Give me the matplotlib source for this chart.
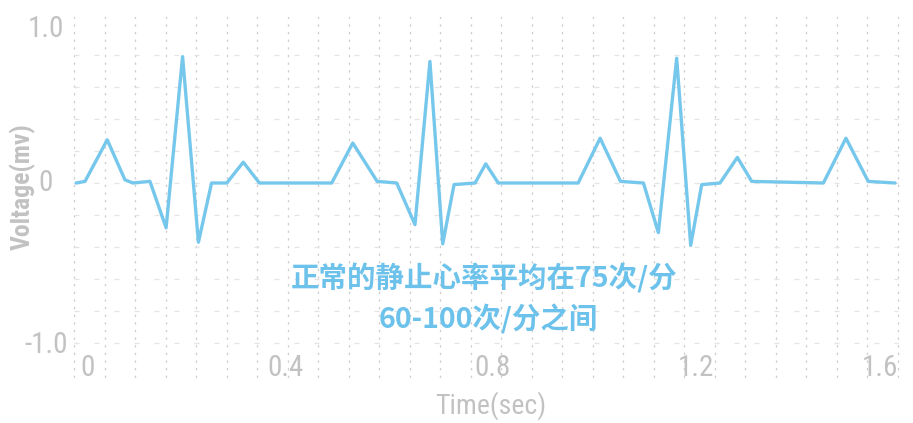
import matplotlib
matplotlib.use("Agg")
import matplotlib.pyplot as plt
from matplotlib import font_manager
import numpy as np

# ECG trace (time in s, voltage in mV)
t_sec = [0.007, 0.036, 0.109, 0.167, 0.193, 0.249, 0.302, 0.356, 0.408, 0.451,
         0.501, 0.555, 0.608,
         0.845, 0.914, 0.994, 1.058, 1.118, 1.167, 1.209, 1.246, 1.315, 1.350,
         1.391,
         1.653, 1.725, 1.792, 1.867, 1.916, 1.976, 2.022, 2.058, 2.118, 2.175,
         2.222, 2.457, 2.531, 2.604, 2.692]
volt_mv = [0.00, 0.01, 0.27, 0.02, 0.00, 0.01, -0.28, 0.79, -0.37, 0.00,
           0.00, 0.13, 0.00,
           0.00, 0.25, 0.01, 0.00, -0.26, 0.76, -0.38, -0.01, 0.00, 0.12,
           0.00,
           0.00, 0.28, 0.01, 0.00, -0.31, 0.78, -0.39, -0.01, 0.00, 0.16,
           0.01, 0.00, 0.28, 0.01, 0.00]

x_tick_labels = ["0", "0.4", "0.8", "1.2", "1.6"]
x_tick_pos = [0.046, 0.695, 1.373, 2.039, 2.643]
y_tick_labels = ["1.0", "0", "-1.0"]
y_tick_pos = [0.96, 0.0, -1.01]

note_lines = ["正常的静止心率平均在75次/分", "60-100次/分之间"]

LINE_COLOR = "#76c7ec"
TEXT_BLUE = "#6cc2ea"
LABEL_GREY = "#c2c2c2"


def pick_font(names):
    for name in names:
        try:
            font_manager.findfont(name, fallback_to_default=False)
            return name
        except Exception:
            continue
    return "DejaVu Sans"


narrow = pick_font(["Liberation Sans Narrow", "DejaVu Sans Condensed", "Roboto Condensed", "Liberation Sans"])

fig = plt.figure(figsize=(9.13, 4.23), dpi=100)
ax = fig.add_axes([0, 0, 1, 1])
ax.set_xlim(-74 / 305, 839 / 305)
ax.set_ylim(-1.5, 183 / 160)
ax.axis("off")

# dotted grid: 0.1 s columns, 0.2 mV rows
ax.vlines(np.arange(0, 2.71, 0.1), -1.21, 1.04, colors="#cfcfcf",
          linewidth=1.0, linestyles=(0, (0.9, 4.6)), capstyle="round")
ax.hlines(np.arange(-1.0, 0.81, 0.2), 0, 2.7, colors="#e4e4e4",
          linewidth=0.9, linestyles=(0, (4, 12)))

ax.plot(t_sec, volt_mv, color=LINE_COLOR, linewidth=2.4,
        solid_joinstyle="round", solid_capstyle="round", zorder=3)

for lab, pos in zip(x_tick_labels, x_tick_pos):
    ax.text(pos, -1.156, lab, ha="center", va="center", fontsize=21,
            color=LABEL_GREY, family=narrow)
for lab, pos in zip(y_tick_labels, y_tick_pos):
    ax.text(-0.093, pos, lab, ha="center", va="center", fontsize=21,
            color=LABEL_GREY, family=narrow)

ax.text(1.367, -1.39, "Time(sec)", ha="center", va="center", fontsize=20,
        color=LABEL_GREY, family=narrow)
ax.text(-0.167, -0.02, "Voltage(mv)", ha="center", va="center", fontsize=18.5,
        rotation=90, color=LABEL_GREY, family=narrow, fontweight="bold")

cjk = ["Noto Sans CJK SC", "DejaVu Sans"]
ax.text(1.346, -0.594, note_lines[0], ha="center", va="center", fontsize=20.5,
        color=TEXT_BLUE, family=cjk, fontweight="bold")
ax.text(1.357, -0.85, note_lines[1], ha="center", va="center", fontsize=20.5,
        color=TEXT_BLUE, family=cjk, fontweight="bold")

fig.savefig("out.png", dpi=100, facecolor="white")
